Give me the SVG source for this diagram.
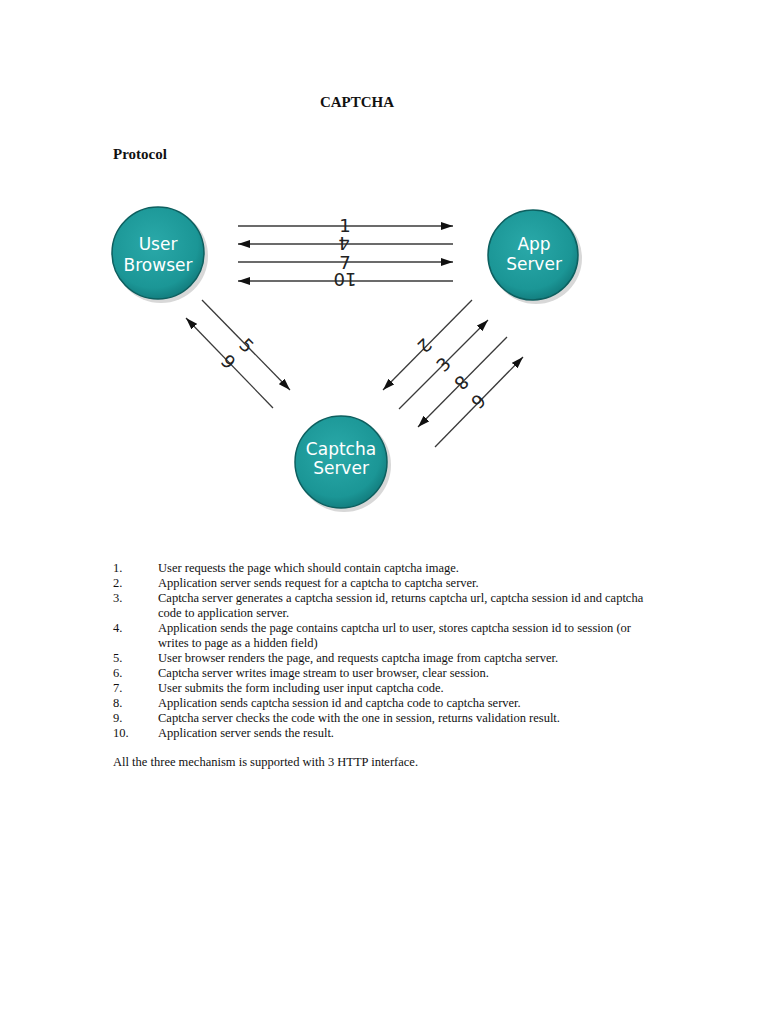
<svg xmlns="http://www.w3.org/2000/svg" width="768" height="1024" viewBox="0 0 768 1024">
<style>
.doc{font-family:"Liberation Serif","Times New Roman",serif;fill:#111}
.h{font-size:15px;font-weight:bold}
.li{font-size:12.5px}
.node circle.c{fill:url(#teal);stroke:#0d5f5f;stroke-width:1.5}
.node circle.s{fill:#d8d8d8}
.nl{font-family:"DejaVu Sans",Verdana,sans-serif;font-size:17px;fill:#ffffff;text-anchor:middle}
.ln{stroke:#3a3a3a;stroke-width:1.3;fill:none}
.ar{marker-end:url(#ah)}
.num{font-family:"DejaVu Sans",Verdana,sans-serif;font-size:18px;fill:#222;text-anchor:middle}
</style>
<defs>
<radialGradient id="teal" cx="45%" cy="40%" r="60%">
<stop offset="0" stop-color="#2aa9a9"/>
<stop offset="0.8" stop-color="#1b9696"/>
<stop offset="1" stop-color="#137f80"/>
</radialGradient>
<marker id="ah" viewBox="0 0 12 8" refX="12" refY="4" markerWidth="12" markerHeight="8" markerUnits="userSpaceOnUse" orient="auto">
<path d="M0,0 L12,4 L0,8 Z" fill="#111"/>
</marker>
</defs>
<rect width="768" height="1024" fill="#ffffff"/>

<text class="doc h" x="357" y="107" text-anchor="middle">CAPTCHA</text>
<text class="doc h" x="113" y="159">Protocol</text>

<g id="user-browser" class="node">
<circle class="s" cx="161" cy="256" r="47"/>
<circle class="c" cx="158" cy="253" r="46"/>
<text class="nl" x="158" y="250">User</text>
<text class="nl" x="158" y="271">Browser</text>
</g>
<g id="app-server" class="node">
<circle class="s" cx="536" cy="258" r="46"/>
<circle class="c" cx="533" cy="255" r="45"/>
<text class="nl" x="534" y="250">App</text>
<text class="nl" x="534" y="270">Server</text>
</g>
<g id="captcha-server" class="node">
<circle class="s" cx="344" cy="465" r="47"/>
<circle class="c" cx="341" cy="462" r="46"/>
<text class="nl" x="341" y="455">Captcha</text>
<text class="nl" x="341" y="474">Server</text>
</g>

<g id="connectors">
<line class="ln ar" x1="238" y1="226" x2="453" y2="226"/>
<line class="ln ar" x1="453" y1="244" x2="238" y2="244"/>
<line class="ln ar" x1="238" y1="262" x2="453" y2="262"/>
<line class="ln ar" x1="453" y1="281" x2="238" y2="281"/>
<line class="ln ar" x1="202" y1="300" x2="290" y2="390"/>
<line class="ln ar" x1="273" y1="408" x2="186" y2="318"/>
<line class="ln ar" x1="472" y1="300" x2="383" y2="390"/>
<line class="ln ar" x1="399" y1="409" x2="488" y2="320"/>
<line class="ln ar" x1="507" y1="337" x2="418" y2="427"/>
<line class="ln ar" x1="435" y1="447" x2="523" y2="357"/>
<text class="num" transform="translate(345,225)" x="0" y="7">1</text>
<text class="num" transform="translate(344,244) rotate(180)" x="0" y="7">4</text>
<text class="num" transform="translate(345,262)" x="0" y="7">7</text>
<text class="num" transform="translate(345,280) rotate(180)" x="0" y="7">10</text>
<text class="num" transform="translate(247,345) rotate(45)" x="0" y="7">5</text>
<text class="num" transform="translate(228,362) rotate(-134)" x="0" y="7">6</text>
<text class="num" transform="translate(425,346) rotate(135)" x="0" y="7">2</text>
<text class="num" transform="translate(443,364) rotate(-45)" x="0" y="7">3</text>
<text class="num" transform="translate(462,383) rotate(135)" x="0" y="7">8</text>
<text class="num" transform="translate(478,401) rotate(-45)" x="0" y="7">9</text>
</g>

<g class="doc li">
<text x="113" y="572">1.</text><text x="158" y="572">User requests the page which should contain captcha image.</text>
<text x="113" y="587">2.</text><text x="158" y="587">Application server sends request for a captcha to captcha server.</text>
<text x="113" y="602">3.</text><text x="158" y="602">Captcha server generates a captcha session id, returns captcha url, captcha session id and captcha</text>
<text x="158" y="617">code to application server.</text>
<text x="113" y="632">4.</text><text x="158" y="632">Application sends the page contains captcha url to user, stores captcha session id to session (or</text>
<text x="158" y="647">writes to page as a hidden field)</text>
<text x="113" y="662">5.</text><text x="158" y="662">User browser renders the page, and requests captcha image from captcha server.</text>
<text x="113" y="677">6.</text><text x="158" y="677">Captcha server writes image stream to user browser, clear session.</text>
<text x="113" y="692">7.</text><text x="158" y="692">User submits the form including user input captcha code.</text>
<text x="113" y="707">8.</text><text x="158" y="707">Application sends captcha session id and captcha code to captcha server.</text>
<text x="113" y="722">9.</text><text x="158" y="722">Captcha server checks the code with the one in session, returns validation result.</text>
<text x="113" y="737">10.</text><text x="158" y="737">Application server sends the result.</text>
<text x="113" y="766">All the three mechanism is supported with 3 HTTP interface.</text>
</g>
</svg>
